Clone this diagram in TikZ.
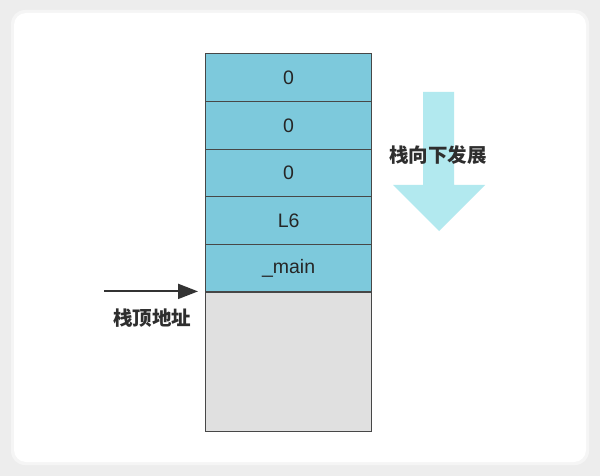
\documentclass[tikz,border=0pt]{standalone}
\usepackage{fontspec}
\usetikzlibrary{arrows.meta}
\setmainfont{Liberation Sans}
\newfontfamily\cjk{Noto Sans CJK SC}
\begin{document}
\begin{tikzpicture}[x=1pt,y=-1pt,
  cell/.style={draw=black!72, line width=1.2pt, minimum width=166pt, minimum height=47.6pt, inner sep=0pt, anchor=north west, font=\fontsize{19.5}{21}\selectfont, text=black!85},
  blue cell/.style={cell, fill=stackblue},
  label text/.style={font=\cjk\bfseries\fontsize{19.5}{21}\selectfont, text=black!82}]
\definecolor{stackblue}{HTML}{7DC9DC}
\definecolor{freegray}{HTML}{E0E0E0}
\definecolor{growcyan}{HTML}{B2E9EF}
\definecolor{pagegray}{HTML}{EDEDED}
\useasboundingbox (0,0) rectangle (600,476);
\fill[pagegray] (0,0) rectangle (600,476);
\fill[black!4, rounded corners=14pt] (11,10) rectangle (589,465);
\fill[white, rounded corners=12pt] (14,13) rectangle (586,462);
% stack cells
\node[blue cell] (c1) at (205,53) {0};
\node[blue cell] (c2) at (205,101) {0};
\node[blue cell] (c3) at (205,148.6) {0};
\node[blue cell] (c4) at (205,196.2) {L6};
\node[blue cell] (c5) at (205,243.8) {\_main};
\node[cell, fill=freegray, minimum height=139.6pt] (c6) at (205,291.4) {};
% growth arrow
\fill[growcyan] (423,92) -- (454,92) -- (454,185) -- (485,185) -- (439,231) -- (393,185) -- (423,185) -- cycle;
\node[label text] (grow) at (438,155) {栈向下发展};
% stack pointer arrow
\coordinate (sp) at (104,291.4);
\draw[line width=2pt, draw=black!80, -{Triangle[length=20pt,width=15pt]}] (sp) -- ([xshift=-7pt]c6.north west);
\node[label text] (sptext) at (152,318) {栈顶地址};
\end{tikzpicture}
\end{document}
